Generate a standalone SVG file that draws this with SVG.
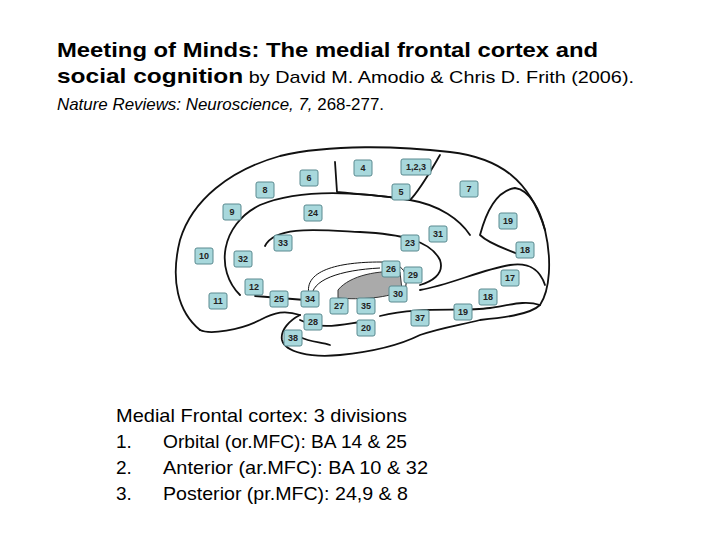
<svg xmlns="http://www.w3.org/2000/svg" width="720" height="540" viewBox="0 0 720 540">
<style>
.t{font-family:"Liberation Sans",Arial,sans-serif;fill:#000}
.b rect{fill:#a8d8dc;stroke:#5a8a90;stroke-width:1}
.b text{font-family:"Liberation Sans",Arial,sans-serif;font-size:9px;font-weight:bold;fill:#222;text-anchor:middle}
.o{fill:none;stroke:#111;stroke-width:1.8;stroke-linecap:round;stroke-linejoin:round}
.s{fill:none;stroke:#111;stroke-width:1}
</style>
<rect width="720" height="540" fill="#fff"/>
<text class="t" x="57" y="57" font-size="21" font-weight="bold" textLength="541" lengthAdjust="spacingAndGlyphs">Meeting of Minds: The medial frontal cortex and</text>
<text class="t" x="57" y="83" font-size="21" textLength="577" lengthAdjust="spacingAndGlyphs"><tspan font-weight="bold">social cognition</tspan><tspan font-size="17"> by David M. Amodio &amp; Chris D. Frith (2006).</tspan></text>
<text class="t" x="57" y="110" font-size="17" font-style="italic" textLength="327" lengthAdjust="spacingAndGlyphs">Nature Reviews: Neuroscience, 7, <tspan font-style="normal">268-277.</tspan></text>
<g id="brain">
<path class="o" d="M200,330 C178,312 170,280 180,240 C192,200 230,170 280,156 C330,144 400,146 450,152 C500,158 530,180 545,230 C552,260 550,290 540,305 C530,315 500,318 480,320 C460,325 440,328 420,335 C400,345 370,352 340,355 C310,358 285,352 282,340 C280,330 290,320 300,315"/>
<path class="o" d="M200,330 C210,335 240,330 260,320 C275,312 285,310 300,315"/>
<path class="o" d="M240,295 C215,270 220,225 260,205 C300,188 360,192 410,200 C440,205 460,220 470,235"/>
<path class="o" d="M265,246 C275,225 320,230 360,232 C400,234 430,240 440,260 C445,275 430,282 420,285"/>
<path class="s" d="M310,298 C300,270 340,262 380,262 C400,262 410,270 405,290"/>
<path class="s" d="M312,298 C310,280 340,270 380,268"/>
<path fill="#aaa" stroke="#333" d="M338,290 C350,275 380,270 400,272 L402,290 C390,298 360,300 338,298 Z"/>
<path class="o" d="M335,162 L337,192 C360,194 390,196 410,200 C420,190 430,172 440,155"/>
<path class="o" d="M480,235 C488,205 500,190 515,188 C530,190 540,210 545,230 M480,235 C490,245 510,250 520,255"/>
<path class="o" d="M420,290 C450,285 480,270 510,265 C530,262 540,270 545,285"/>
<path class="o" d="M380,316 C420,306 460,312 490,308 C510,305 525,300 540,305"/>
<path class="o" d="M300,320 C320,330 340,325 360,322 M300,337 C310,342 320,342 330,345"/>
<path class="o" d="M255,296 L305,300"/>
</g>
<g class="b">
<g id="n4"><rect x="354" y="160" width="18" height="16" rx="2"/><text x="363" y="171">4</text></g>
<g id="n123"><rect x="401" y="159" width="30" height="16" rx="2"/><text x="416" y="170">1,2,3</text></g>
<g id="n6"><rect x="300" y="170" width="18" height="16" rx="2"/><text x="309" y="181">6</text></g>
<g id="n8"><rect x="256" y="182" width="18" height="16" rx="2"/><text x="265" y="193">8</text></g>
<g id="n5"><rect x="392" y="184" width="18" height="16" rx="2"/><text x="401" y="195">5</text></g>
<g id="n7"><rect x="460" y="181" width="18" height="16" rx="2"/><text x="469" y="192">7</text></g>
<g id="n9"><rect x="223" y="204" width="18" height="16" rx="2"/><text x="232" y="215">9</text></g>
<g id="n24"><rect x="304" y="205" width="18" height="16" rx="2"/><text x="313" y="216">24</text></g>
<g id="n19a"><rect x="499" y="213" width="18" height="16" rx="2"/><text x="508" y="224">19</text></g>
<g id="n31"><rect x="429" y="226" width="18" height="16" rx="2"/><text x="438" y="237">31</text></g>
<g id="n33"><rect x="274" y="235" width="18" height="16" rx="2"/><text x="283" y="246">33</text></g>
<g id="n23"><rect x="401" y="235" width="18" height="16" rx="2"/><text x="410" y="246">23</text></g>
<g id="n18a"><rect x="516" y="242" width="18" height="16" rx="2"/><text x="525" y="253">18</text></g>
<g id="n10"><rect x="195" y="248" width="18" height="16" rx="2"/><text x="204" y="259">10</text></g>
<g id="n32"><rect x="234" y="251" width="18" height="16" rx="2"/><text x="243" y="262">32</text></g>
<g id="n26"><rect x="382" y="261" width="18" height="16" rx="2"/><text x="391" y="272">26</text></g>
<g id="n29"><rect x="404" y="267" width="18" height="16" rx="2"/><text x="413" y="278">29</text></g>
<g id="n17"><rect x="501" y="270" width="18" height="16" rx="2"/><text x="510" y="281">17</text></g>
<g id="n12"><rect x="245" y="279" width="18" height="16" rx="2"/><text x="254" y="290">12</text></g>
<g id="n30"><rect x="389" y="286" width="18" height="16" rx="2"/><text x="398" y="297">30</text></g>
<g id="n18b"><rect x="479" y="289" width="18" height="16" rx="2"/><text x="488" y="300">18</text></g>
<g id="n11"><rect x="209" y="293" width="18" height="16" rx="2"/><text x="218" y="304">11</text></g>
<g id="n25"><rect x="270" y="291" width="18" height="16" rx="2"/><text x="279" y="302">25</text></g>
<g id="n34"><rect x="301" y="291" width="18" height="16" rx="2"/><text x="310" y="302">34</text></g>
<g id="n27"><rect x="330" y="298" width="18" height="16" rx="2"/><text x="339" y="309">27</text></g>
<g id="n35"><rect x="357" y="298" width="18" height="16" rx="2"/><text x="366" y="309">35</text></g>
<g id="n19b"><rect x="454" y="304" width="18" height="16" rx="2"/><text x="463" y="315">19</text></g>
<g id="n37"><rect x="411" y="310" width="18" height="16" rx="2"/><text x="420" y="321">37</text></g>
<g id="n28"><rect x="304" y="314" width="18" height="16" rx="2"/><text x="313" y="325">28</text></g>
<g id="n20"><rect x="357" y="320" width="18" height="16" rx="2"/><text x="366" y="331">20</text></g>
<g id="n38"><rect x="284" y="330" width="18" height="16" rx="2"/><text x="293" y="341">38</text></g>
</g>
<g id="connectors"/>
<g class="t" font-size="19">
<text x="116" y="422" textLength="291" lengthAdjust="spacingAndGlyphs">Medial Frontal cortex: 3 divisions</text>
<text x="116" y="448">1.</text><text x="163" y="448" textLength="244" lengthAdjust="spacingAndGlyphs">Orbital (or.MFC): BA 14 &amp; 25</text>
<text x="116" y="474">2.</text><text x="163" y="474" textLength="265" lengthAdjust="spacingAndGlyphs">Anterior (ar.MFC): BA 10 &amp; 32</text>
<text x="116" y="500">3.</text><text x="163" y="500" textLength="245" lengthAdjust="spacingAndGlyphs">Posterior (pr.MFC): 24,9 &amp; 8</text>
</g>
</svg>
